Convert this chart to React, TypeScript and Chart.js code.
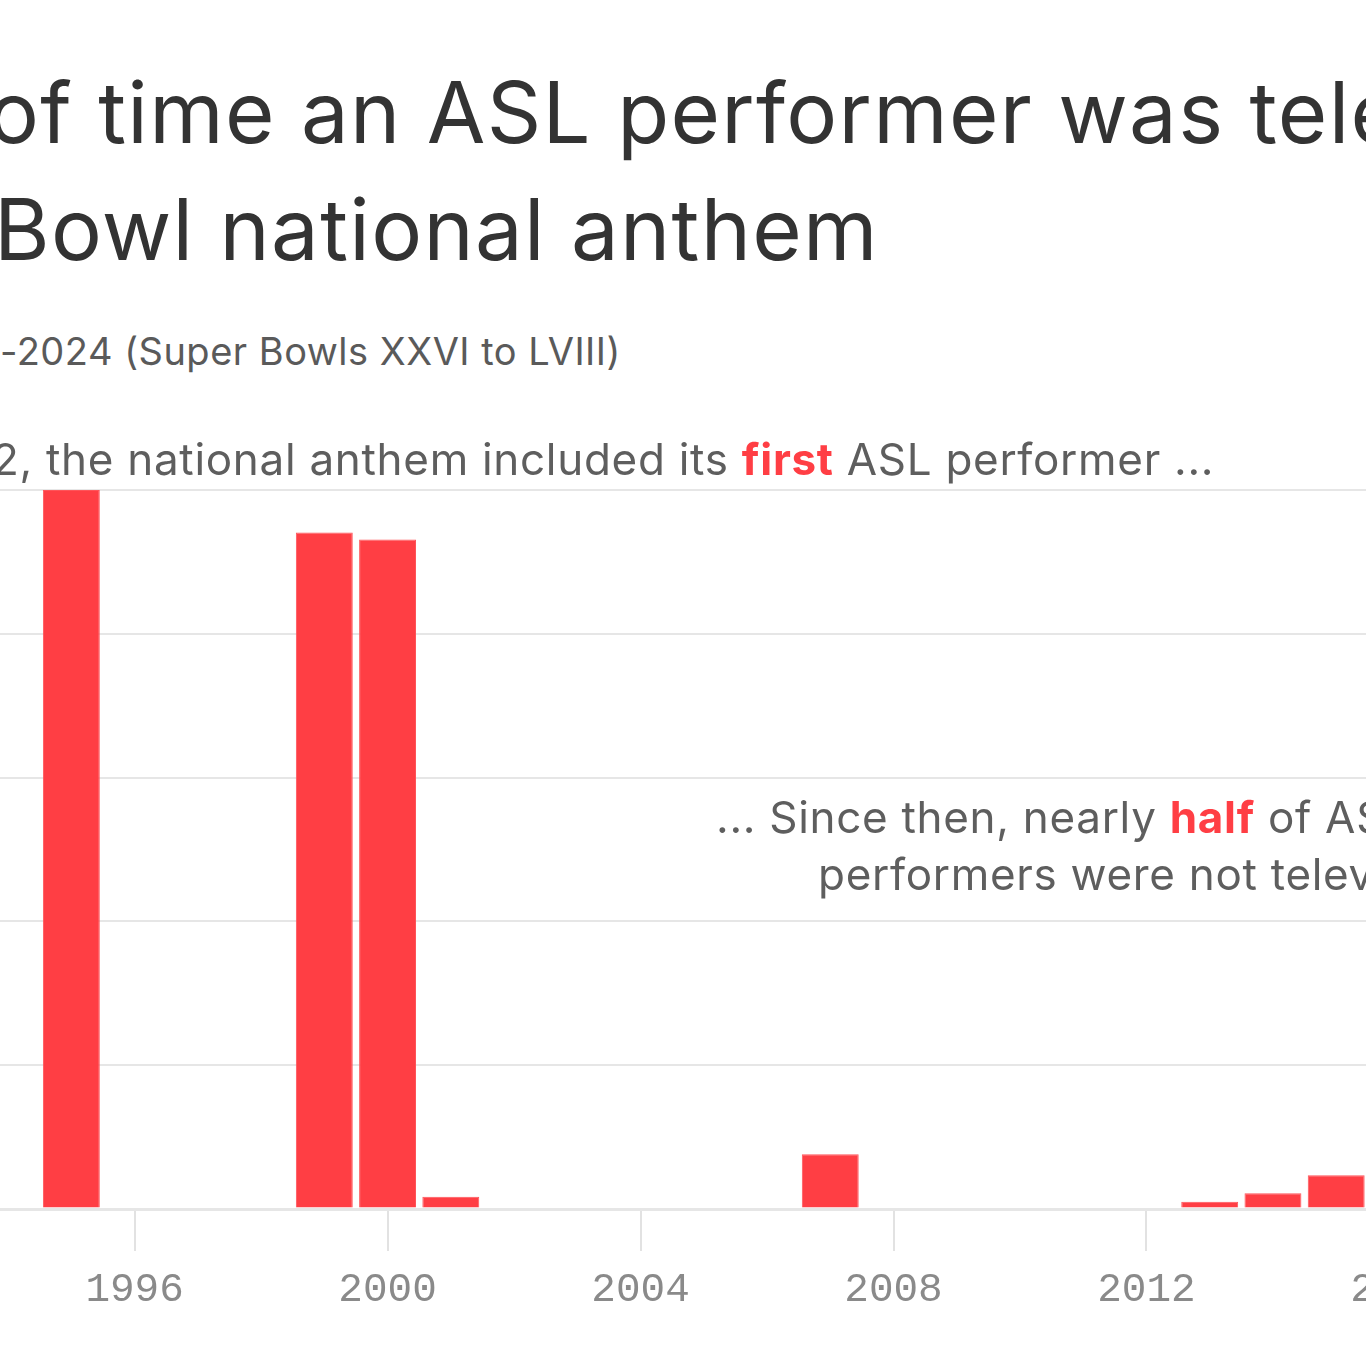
import React, { useEffect, useLayoutEffect, useRef, useState } from 'react';
import Chart from 'chart.js/auto';

// Super Bowl years, XXVI (1992) to LVIII (2024)
const years = [
  '1992', '1993', '1994', '1995', '1996', '1997', '1998', '1999', '2000', '2001', '2002',
  '2003', '2004', '2005', '2006', '2007', '2008', '2009', '2010', '2011', '2012', '2013',
  '2014', '2015', '2016', '2017', '2018', '2019', '2020', '2021', '2022', '2023', '2024',
];

// share of the anthem (%) with the ASL performer on screen; null = outside the picture
const televisedShare: (number | null)[] = [
  null, null, 0, 100, 0, 0, 0, 94.1, 93.1, 1.7, 0,
  0, 0, 0, 0, 7.6, 0, 0, 0, 0, 0, 1.0,
  2.2, 4.7, null, null, null, null, null, null, null, null, null,
];

const xTickLabels = ['1992', '1996', '2000', '2004', '2008', '2012', '2016', '2020', '2024'];
const yTickValues = [0, 20, 40, 60, 80, 100];

const RED = '#ff3e44';
const TEXT_FONT = 'Inter, "Noto Sans", sans-serif';

interface ClippedLineProps {
  prefix?: string;
  visibleLeft: number;
  top: number;
  style: React.CSSProperties;
  children: React.ReactNode;
}

// A line whose beginning runs off the left edge: the prefix is pushed out of view
const ClippedLine: React.FC<ClippedLineProps> = ({ prefix = '', visibleLeft, top, style, children }) => {
  const prefixRef = useRef<HTMLSpanElement | null>(null);
  const [left, setLeft] = useState(visibleLeft);

  useLayoutEffect(() => {
    const measure = () => {
      const w = prefixRef.current ? prefixRef.current.getBoundingClientRect().width : 0;
      setLeft(visibleLeft - w);
    };
    measure();
    if (document.fonts) document.fonts.ready.then(measure);
  }, [prefix, visibleLeft]);

  return (
    <div style={{ position: 'absolute', top, left, whiteSpace: 'nowrap', lineHeight: 1, fontFamily: TEXT_FONT, ...style }}>
      <span ref={prefixRef}>{prefix}</span>
      {children}
    </div>
  );
};

const BarChart: React.FC = () => {
  const canvasRef = useRef<HTMLCanvasElement | null>(null);
  const chartInstance = useRef<Chart | null>(null);

  useEffect(() => {
    if (!canvasRef.current) return;
    if (chartInstance.current) chartInstance.current.destroy();

    const ctx = canvasRef.current.getContext('2d');
    if (!ctx) return;

    chartInstance.current = new Chart(ctx, {
      type: 'bar',
      data: {
        labels: years,
        datasets: [
          {
            data: televisedShare,
            backgroundColor: RED,
            borderColor: '#ff5459',
            borderWidth: 1,
            categoryPercentage: 1,
            barPercentage: 0.9,
          },
        ],
      },
      options: {
        animation: false,
        responsive: true,
        maintainAspectRatio: false,
        layout: { padding: { top: 19, right: 60, left: 0, bottom: 0 } },
        plugins: {
          legend: { display: false },
          tooltip: { enabled: false },
        },
        scales: {
          x: {
            type: 'category',
            offset: true,
            border: { display: false },
            grid: {
              display: true,
              drawOnChartArea: false,
              drawTicks: true,
              tickLength: 42,
              offset: false,
              lineWidth: 2,
              color: (c: any) => (xTickLabels.includes(years[c.index]) ? '#e2e2e2' : 'rgba(0,0,0,0)'),
            },
            ticks: {
              autoSkip: false,
              maxRotation: 0,
              padding: 15,
              color: '#8a8a8a',
              font: { family: '"Liberation Mono", "DejaVu Sans Mono", monospace', size: 41 },
              callback: (_v: any, i: number) => (xTickLabels.includes(years[i]) ? years[i] : ''),
            },
            afterFit: (scale: any) => {
              scale.height = 120;
            },
          },
          y: {
            min: 0,
            max: 100,
            border: { display: false },
            afterBuildTicks: (scale: any) => {
              scale.ticks = yTickValues.map((value) => ({ value }));
            },
            grid: {
              color: '#e6e6e6',
              lineWidth: (c: any) => (c.tick && c.tick.value === 0 ? 3 : 2),
              drawTicks: false,
            },
            ticks: {
              padding: 12,
              color: '#8a8a8a',
              font: { family: '"Liberation Mono", monospace', size: 30 },
              callback: (v: any) => `${v}%`,
            },
            afterFit: (scale: any) => {
              scale.width = 80;
            },
          },
        },
      },
    });

    return () => {
      if (chartInstance.current) {
        chartInstance.current.destroy();
        chartInstance.current = null;
      }
    };
  }, []);

  return (
    <div style={{ position: 'absolute', left: -230, top: 460, width: 2227, height: 869 }}>
      <canvas ref={canvasRef} />
    </div>
  );
};

const App: React.FC = () => {
  const titleStyle: React.CSSProperties = { fontSize: 85, color: '#333333', fontWeight: 400, letterSpacing: 1.3 };
  const noteStyle: React.CSSProperties = { fontSize: 44, color: '#5e5e5e', letterSpacing: 0.7 };
  const hot: React.CSSProperties = { color: RED, fontWeight: 700 };

  return (
    <div style={{ position: 'fixed', left: 0, top: 0, width: 1366, height: 1366, overflow: 'hidden', background: '#ffffff' }}>
      <BarChart />
      <ClippedLine prefix="1992 " visibleLeft={0} top={332} style={{ fontSize: 38, color: '#5a5a5a', letterSpacing: 0.5 }}>
        -2024 (Super Bowls XXVI to LVIII)
      </ClippedLine>
      <ClippedLine prefix="Share " visibleLeft={-12} top={70} style={titleStyle}>
        of time an ASL performer was televised during the
      </ClippedLine>
      <ClippedLine prefix="Super " visibleLeft={-6} top={187} style={titleStyle}>
        Bowl national anthem
      </ClippedLine>
      <ClippedLine prefix="In 199" visibleLeft={-8} top={437} style={noteStyle}>
        2, the national anthem included its <span style={hot}>first</span> ASL performer ...
      </ClippedLine>
      <ClippedLine visibleLeft={716} top={795} style={noteStyle}>
        ... Since then, nearly <span style={hot}>half</span> of ASL
      </ClippedLine>
      <ClippedLine visibleLeft={818} top={852} style={noteStyle}>
        performers were not televised.
      </ClippedLine>
    </div>
  );
};

export default App;
